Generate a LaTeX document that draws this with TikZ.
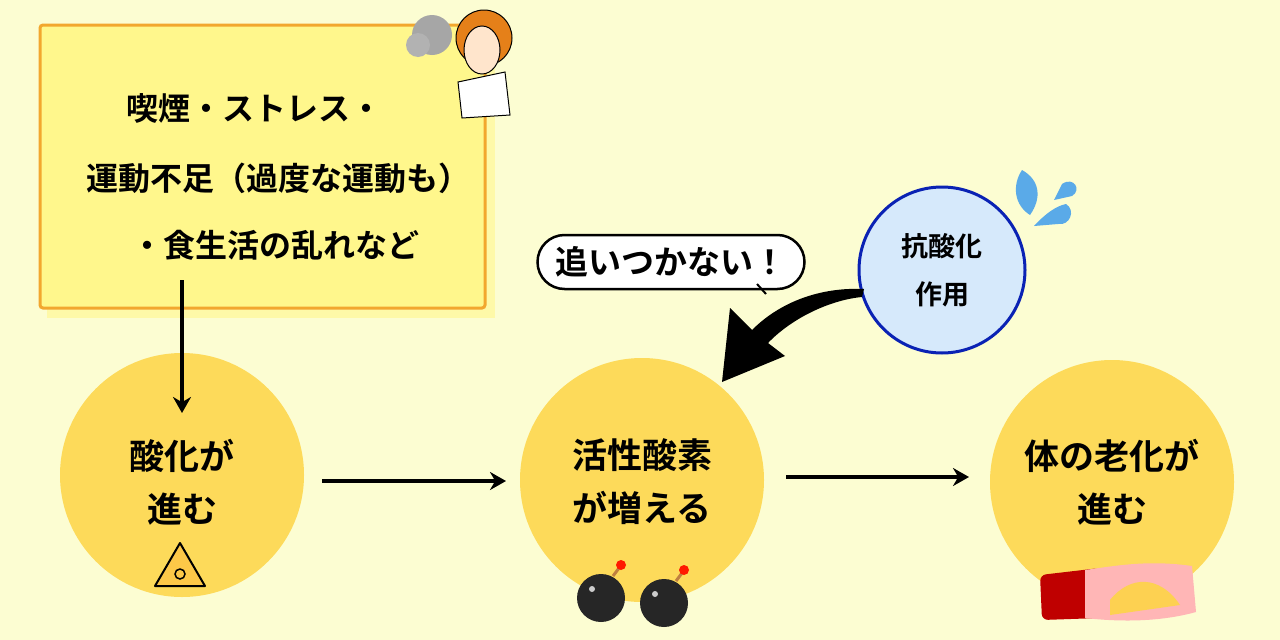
\documentclass[tikz,border=0pt]{standalone}
\usepackage{fontspec}
\newfontfamily\jp{Noto Sans CJK JP Bold}
\usetikzlibrary{arrows.meta}
\definecolor{bg}{HTML}{FCFDD2}
\definecolor{boxf}{HTML}{FFF78C}
\definecolor{boxb}{HTML}{F2A72E}
\definecolor{circ}{HTML}{FDDA5A}
\definecolor{bluef}{HTML}{D6E9FB}
\definecolor{blueb}{HTML}{0A22B4}
\definecolor{drop}{HTML}{5AAAE8}
\tikzset{
 big/.style={font=\jp\fontsize{32}{36}\selectfont},
 circtxt/.style={font=\jp\fontsize{35}{53}\selectfont, align=center},
 yc/.style={circle, fill=circ, minimum size=244pt, inner sep=0pt},
 arr/.style={line width=4pt, -{Stealth[length=16pt,width=18pt]}},
}
\begin{document}
\begin{tikzpicture}[x=1pt,y=-1pt]
\fill[bg] (0,0) rectangle (1280,640);
\useasboundingbox (0,0) rectangle (1280,640);
% box
\fill[boxf!60!bg] (47,32) rectangle (495,318);
\draw[boxb, fill=boxf, line width=3pt, rounded corners=3pt] (40,25) rectangle (485,308);
\node[big] (t1) at (254,108) {喫煙・ストレス・};
\node[big] (t2) at (278,178) {運動不足（過度な運動も）};
\node[big] (t3) at (275,245) {・食生活の乱れなど};
\coordinate (vs) at (182,280);
% man (simplified)
\fill[gray!70] (432,35) circle (20);
\fill[gray!60] (418,45) circle (12);
\fill[white, draw=black, line width=1pt] (458,82) -- (505,72) -- (510,115) -- (462,118) -- cycle;
\fill[orange!60!brown, draw=black, line width=1pt] (484,38) circle (28);
\fill[orange!20, draw=black, line width=1pt] (482,50) ellipse (18 and 24);
% circles
\node[yc] (c1) at (182,475) {};
\node[yc] (c2) at (642,480) {};
\node[yc] (c3) at (1112,482) {};
\node[circtxt] at (182,482) {酸化が\\進む};
\node[circtxt] at (642,482) {活性酸素\\が増える};
\node[circtxt] at (1112,482) {体の老化が\\進む};
\coordinate (ve) at (182,413);
\draw[arr] (vs) -- (ve);
\coordinate (h1s) at (322,481); \coordinate (h1e) at (506,481);
\coordinate (h2s) at (786,477); \coordinate (h2e) at (969,477);
\draw[arr] (h1s) -- (h1e);
\draw[arr] (h2s) -- (h2e);
% anti-oxidant
\node[circle, fill=bluef, draw=blueb, line width=3pt, minimum size=166pt, align=center,
 font=\jp\fontsize{27}{48}\selectfont] (ao) at (942,270) {抗酸化\\作用};
% curved arrow
\fill[black] (864,289) .. controls (820,287) and (780,302) .. (752,330) -- (730,308) -- (722,382) -- (785,356) -- (768,343) .. controls (792,318) and (830,300) .. (862,297) -- cycle;
% bubble
\node[draw=black, fill=white, line width=2.5pt, rounded corners=27pt, minimum width=267pt, minimum height=54pt,
 font=\jp\fontsize{33}{36}\selectfont] (bub) at (671,262) {追いつかない！};
\draw[line width=2pt] (757,284) -- (766,294);
% drops
\fill[drop] (1022,170) .. controls (1012,185) and (1014,205) .. (1030,215) .. controls (1042,198) and (1040,180) .. (1022,170) -- cycle;
\fill[drop] (1062,184) .. controls (1074,176) and (1082,190) .. (1072,196) -- (1054,200) -- cycle;
\fill[drop] (1066,204) .. controls (1076,210) and (1070,226) .. (1058,224) -- (1034,226) .. controls (1045,214) and (1056,206) .. (1066,204) -- cycle;
% warning sign
\draw[line join=round, line width=2pt, fill=circ!80!orange] (180,543) -- (205,586) -- (155,586) -- cycle;
\draw[line width=1.5pt] (180,574) circle (5);
% bombs
\foreach \x/\y in {601/598, 664/603} {
 \fill[black!85] (\x,\y) circle (24);
 \fill[white!60!gray] (\x-9,\y-9) circle (3);
 \draw[line width=3pt, brown] (\x+12,\y-22) -- (\x+18,\y-30);
 \fill[red!80!orange] (\x+20,\y-33) circle (5);
}
% vessel
\fill[red!75!black, rounded corners=6pt] (1040,575) -- (1100,568) -- (1100,618) -- (1042,620) -- cycle;
\fill[pink!70!red!60] (1085,570) .. controls (1120,565) and (1150,560) .. (1192,566) -- (1196,612) .. controls (1160,622) and (1120,622) .. (1085,618) -- cycle;
\fill[circ!90!orange] (1110,600) .. controls (1130,575) and (1160,575) .. (1180,605) -- (1110,615) -- cycle;
\end{tikzpicture}
\end{document}
